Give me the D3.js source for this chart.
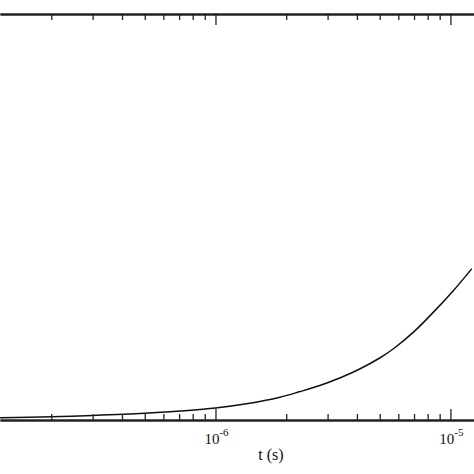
<!DOCTYPE html>
<html>
<head>
<meta charset="utf-8">
<script src="https://cdn.jsdelivr.net/npm/d3@7"></script>
<style>
	body { margin: 0; background: #fff; }
</style>
</head>
<body>
<svg id="chart" width="474" height="474"></svg>
<script>
// time (s) and signal (arbitrary units)
var times = [1.21e-7, 2.0e-7, 3.0e-7, 5.0e-7, 7.05e-7, 1.0e-6, 1.355e-6, 1.88e-6, 2.29e-6, 2.78e-6,
	3.38e-6, 4.11e-6, 5.0e-6, 5.74e-6, 6.98e-6, 8.49e-6, 1.033e-5, 1.233e-5];
var values = [0.0054, 0.0079, 0.0111, 0.0165, 0.0222, 0.0296, 0.0399, 0.0560, 0.0700, 0.0850,
	0.1034, 0.1256, 0.1527, 0.1761, 0.2170, 0.2663, 0.3197, 0.3729];

var majorTicks = [1e-6, 1e-5];
var tickExponents = ["-6", "-5"];
var minorTicks = [2e-7, 3e-7, 4e-7, 5e-7, 6e-7, 7e-7, 8e-7, 9e-7,
	2e-6, 3e-6, 4e-6, 5e-6, 6e-6, 7e-6, 8e-6, 9e-6];
var xLabel = "t (s)";

var serif = '"Liberation Serif", "Times New Roman", Times, serif';

var svg = d3.select("#chart");
var width = 474;
var top_ = 14, bottom = 420;

var x = d3.scaleLog()
	.domain([1.21e-7, 1.26e-5])
	.range([0, width]);

var y = d3.scaleLinear()
	.domain([0, 1])
	.range([bottom, top_]);

// clip to plot area
svg.append("clipPath").attr("id", "clip")
	.append("rect").attr("x", 0).attr("y", top_).attr("width", width).attr("height", bottom - top_);

var line = d3.line()
	.x(function(d, i) { return x(times[i]); })
	.y(function(d) { return y(d); })
	.curve(d3.curveCatmullRom.alpha(0.5));

svg.append("path")
	.datum(values)
	.attr("clip-path", "url(#clip)")
	.attr("fill", "none")
	.attr("stroke", "#111")
	.attr("stroke-width", 1.5)
	.attr("d", line);

function styleAxis(g) {
	g.select(".domain").attr("stroke", "#222").attr("stroke-width", 2);
	g.selectAll(".tick line").attr("stroke", "#222").attr("stroke-width", 1.3);
}

// bottom axis, ticks point up into the plot
var gBottomMinor = svg.append("g")
	.attr("transform", "translate(0," + bottom + ")")
	.call(d3.axisBottom(x).tickValues(minorTicks).tickSizeInner(-6).tickSizeOuter(0).tickFormat(""));
styleAxis(gBottomMinor);

var gBottom = svg.append("g")
	.attr("transform", "translate(0," + bottom + ")")
	.call(d3.axisBottom(x).tickValues(majorTicks).tickSizeInner(-11).tickSizeOuter(0).tickFormat(""));
styleAxis(gBottom);

// top axis, ticks point down
var gTopMinor = svg.append("g")
	.attr("transform", "translate(0," + top_ + ")")
	.call(d3.axisTop(x).tickValues(minorTicks).tickSizeInner(-6).tickSizeOuter(0).tickFormat(""));
styleAxis(gTopMinor);

var gTop = svg.append("g")
	.attr("transform", "translate(0," + top_ + ")")
	.call(d3.axisTop(x).tickValues(majorTicks).tickSizeInner(-11).tickSizeOuter(0).tickFormat(""));
styleAxis(gTop);

// tick labels as 10^n
var labels = svg.append("g").selectAll("text")
	.data(majorTicks)
	.enter().append("text")
	.attr("x", function(d) { return x(d) + 1; })
	.attr("y", 444)
	.attr("text-anchor", "middle")
	.attr("fill", "#111")
	.attr("font-family", serif)
	.attr("font-size", 15);
labels.append("tspan").text("10");
labels.append("tspan")
	.attr("dy", -8)
	.attr("font-size", 11)
	.text(function(d, i) { return tickExponents[i]; });

svg.append("text")
	.attr("x", 271)
	.attr("y", 460)
	.attr("text-anchor", "middle")
	.attr("fill", "#111")
	.attr("font-family", serif)
	.attr("font-size", 16)
	.text(xLabel);
</script>
</body>
</html>
